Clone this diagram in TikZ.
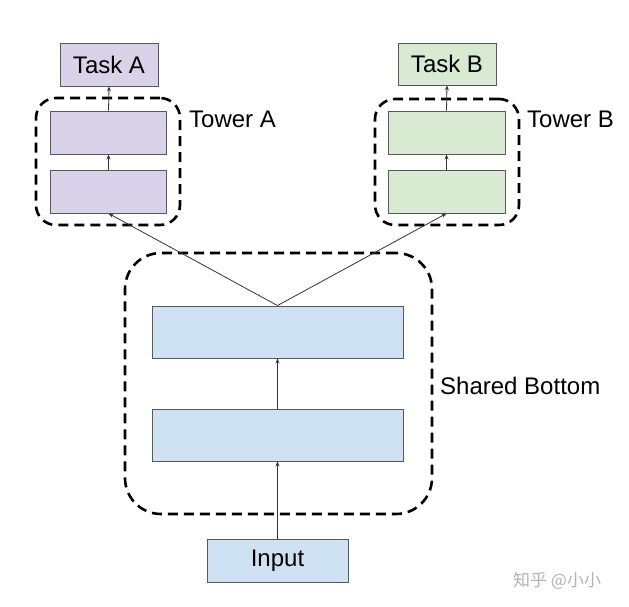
\documentclass[tikz,border=0pt]{standalone}
\usepackage{fontspec}
\setmainfont{Liberation Sans}
\newfontfamily\cjk{Noto Sans CJK SC}
\usetikzlibrary{arrows.meta}
\definecolor{purp}{HTML}{D9D2E9}
\definecolor{grn}{HTML}{D9EAD3}
\definecolor{blu}{HTML}{CFE2F3}
\definecolor{edge}{HTML}{595959}
\begin{document}
\begin{tikzpicture}[x=1pt,y=-1pt,
  box/.style={draw=edge,line width=0.9pt,inner sep=0pt,font=\fontsize{24}{28}\selectfont},
  grp/.style={draw=black,line width=2.6pt,dash pattern=on 10pt off 6pt,inner sep=0pt},
  lbl/.style={anchor=west,inner sep=0pt,font=\fontsize{24}{28}\selectfont},
  conn/.style={draw=black!80,line width=0.8pt,-{Stealth[length=5pt,width=4pt]}}]
\useasboundingbox (0,0) rectangle (629,606);
% Tower A
\node[grp,rounded corners=20pt,minimum width=144pt,minimum height=127pt] (gA) at (108,161.5) {};
\node[box,fill=purp,minimum width=98pt,minimum height=43pt] (taskA) at (109,64.5) {Task A};
\node[box,fill=purp,minimum width=116pt,minimum height=43pt] (a2) at (108.5,132.5) {};
\node[box,fill=purp,minimum width=116pt,minimum height=43pt] (a1) at (108.5,191.5) {};
\node[lbl] (tA) at (189,119) {Tower A};
% Tower B
\node[grp,rounded corners=20pt,minimum width=144pt,minimum height=126pt] (gB) at (447,162) {};
\node[box,fill=grn,minimum width=98pt,minimum height=42pt] (taskB) at (447,64) {Task B};
\node[box,fill=grn,minimum width=117pt,minimum height=43pt] (b2) at (446.5,132.5) {};
\node[box,fill=grn,minimum width=117pt,minimum height=43pt] (b1) at (446.5,191.5) {};
\node[lbl] (tB) at (527,119) {Tower B};
% Shared bottom
\node[grp,rounded corners=36pt,minimum width=307pt,minimum height=261pt] (gS) at (278.5,383.5) {};
\node[box,fill=blu,minimum width=251pt,minimum height=52pt] (s2) at (277.5,332) {};
\node[box,fill=blu,minimum width=251pt,minimum height=52pt] (s1) at (277.5,435) {};
\node[lbl] (tS) at (440,386) {Shared Bottom};
% Input
\node[box,fill=blu,minimum width=141pt,minimum height=43pt] (inp) at (277.5,560.5) {Input};
% connectors
\draw[conn] (inp.north) -- (s1.south);
\draw[conn] (s1.north) -- (s2.south);
\draw[conn] (s2.north) -- (a1.south);
\draw[conn] (s2.north) -- (b1.south);
\draw[conn] (a1.north) -- (a2.south);
\draw[conn] (a2.north) -- (taskA.south);
\draw[conn] (b1.north) -- (b2.south);
\draw[conn] (b2.north) -- (taskB.south);
% watermark
\node[anchor=west,inner sep=0pt,text=black!30,font=\cjk\fontsize{17}{20}\selectfont] (wm) at (513,581) {知乎 @小小};
\end{tikzpicture}
\end{document}
